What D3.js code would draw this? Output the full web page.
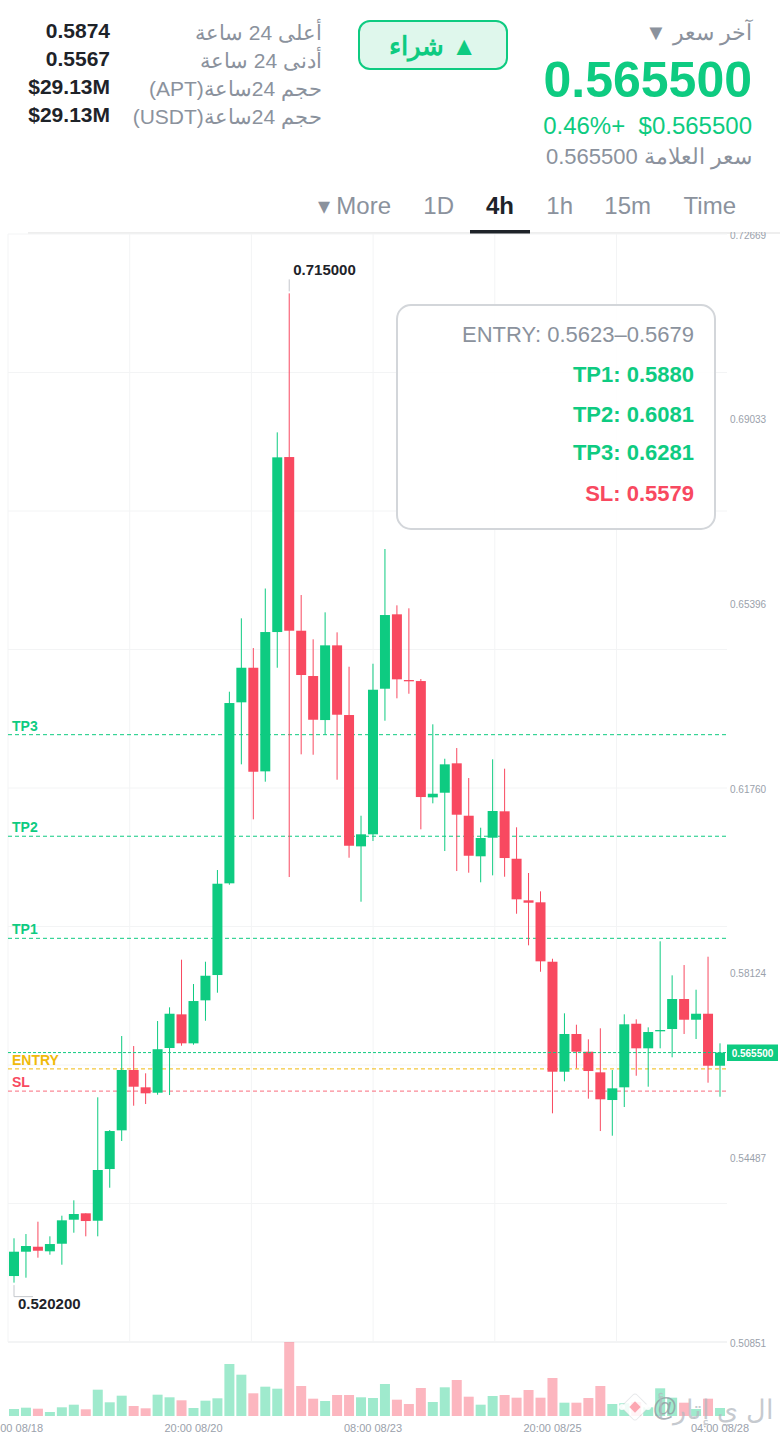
<!DOCTYPE html>
<html>
<head>
  <meta charset="utf-8">
  <script src="https://d3js.org/d3.v7.min.js"></script>
  <style>
  html, body { margin: 0; padding: 0; background: #fff; }
  svg { display: block; }
  text { font-family: "Liberation Sans", Arial, sans-serif; }
  .gray { fill: #8b929d; }
  .dark { fill: #1e2329; font-weight: bold; }
  </style>
</head>
<body>
<script>
var GREEN = '#0ecb81', RED = '#f84960', YELLOW = '#f0b90b';

// candles (4h)
var opens  = [0.52150,0.52629,0.52727,0.52637,0.52786,0.53259,0.53385,0.53239,0.54257,0.55019,
              0.56207,0.55866,0.55760,0.56640,0.57303,0.56732,0.57579,0.58077,0.59883,0.63447,
              0.64128,0.62088,0.64831,0.68277,0.64857,0.63965,0.63098,0.64569,0.63197,0.60611,
              0.60848,0.63715,0.65180,0.63886,0.63866,0.61576,0.61667,0.62246,0.61214,0.60415,
              0.60781,0.61301,0.60367,0.59548,0.59509,0.58339,0.56173,0.56916,0.56567,0.56161,
              0.55616,0.55866,0.57118,0.56634,0.56969,0.57014,0.57605,0.57197,0.57315,0.56291];
var closes = [0.52629,0.52741,0.52648,0.52780,0.53247,0.53371,0.53233,0.54238,0.55005,0.56207,
              0.55878,0.55748,0.56616,0.57315,0.56732,0.57565,0.58063,0.59875,0.63433,0.64128,
              0.62080,0.64831,0.68271,0.64857,0.63985,0.63104,0.64569,0.63203,0.60623,0.60848,
              0.63695,0.65166,0.63900,0.63861,0.61582,0.61647,0.62226,0.61234,0.60426,0.60775,
              0.61307,0.60381,0.59568,0.59501,0.58347,0.56173,0.56916,0.56567,0.56187,0.55630,
              0.55846,0.57107,0.56634,0.56955,0.56994,0.57605,0.57197,0.57315,0.56291,0.56550];
var highs  = [0.52893,0.52977,0.53220,0.52932,0.53338,0.53641,0.53385,0.55669,0.55025,0.56876,
              0.56679,0.56142,0.57171,0.57441,0.58379,0.57900,0.58339,0.60145,0.63656,0.65101,
              0.64516,0.65688,0.68763,0.71500,0.65560,0.64688,0.65219,0.64825,0.64148,0.61214,
              0.64207,0.66466,0.65357,0.65298,0.63906,0.63014,0.62336,0.62547,0.61956,0.60978,
              0.62325,0.62140,0.60986,0.60086,0.59725,0.58398,0.57323,0.57099,0.56811,0.57028,
              0.56207,0.57303,0.57205,0.57047,0.58741,0.58071,0.58274,0.57788,0.58438,0.56732];
var lows   = [0.52020,0.52117,0.52511,0.52570,0.52373,0.53003,0.52932,0.52932,0.53889,0.54809,
              0.55504,0.55537,0.55720,0.55714,0.56685,0.56705,0.57177,0.57729,0.59855,0.62226,
              0.61143,0.61884,0.64128,0.60007,0.62423,0.62415,0.62817,0.61923,0.60387,0.59521,
              0.60716,0.63085,0.63526,0.63616,0.60946,0.61458,0.60519,0.60125,0.60092,0.59903,
              0.60040,0.60013,0.59284,0.58662,0.58142,0.55354,0.55984,0.56240,0.55642,0.55005,
              0.54913,0.55478,0.56094,0.55878,0.56634,0.56457,0.56916,0.56817,0.55957,0.55681];
var volumes = [7,8.3,7.3,4,8.7,11.3,6.7,26.3,13.7,20.3,
               10,7.7,21.3,18.7,15.7,8,15.3,17.7,52,41.3,
               22.7,29.3,27.3,74,30,17.3,15,21,21,18.7,
               18,32,16.3,12,28,14,28.7,36,19.3,11.3,
               20,21,18.3,26,18.3,38,13.3,13.3,18,30,
               12,12.7,14,8.7,27.7,18.3,13.3,7,17.3,8];

var priceTicks = ['0.72669','0.69033','0.65396','0.61760','0.58124','0.54487','0.50851'];
var timeLabels = ['20:00 08/18','20:00 08/20','08:00 08/23','20:00 08/25','04:00 08/28'];
var timeLabelIdx = [0,15,30,45,59];
var levelNames  = ['TP3','TP2','TP1','ENTRY','SL'];
var levelPrices = [0.6281,0.6081,0.5880,0.5623,0.5579];
var levelColors = [GREEN,GREEN,GREEN,YELLOW,RED];
var lastPrice = 0.5655;

var statLabels = ['أعلى 24 ساعة','أدنى 24 ساعة','حجم 24ساعة(APT)','حجم 24ساعة(USDT)'];
var statValues = ['0.5874','0.5567','$29.13M','$29.13M'];
var tabNames = ['Time','15m','1h','4h','1D','▾ More'];
var tabRight = [736,651,573,514,454,391];
var boxLines = ['ENTRY: 0.5623–0.5679','TP1: 0.5880','TP2: 0.6081','TP3: 0.6281','SL: 0.5579'];
var boxColors = ['#8b929d',GREEN,GREEN,GREEN,RED];
var boxBase = [342,382,422,460,501];

var svg = d3.select('body').append('svg')
  .attr('width', 780).attr('height', 1434);

var x = d3.scaleLinear().domain([0,59]).range([14,720]);
var y = d3.scaleLinear().domain([0.50851,0.72669]).range([1342,234]);
var v = d3.scaleLinear().domain([0,74]).range([1416,1342]);
var gridX = d3.scaleLinear().domain([0,1]).range([8,129.7]);

// header
function rtl(tx, ty, size, txt, cls) {
  return svg.append('text').attr('x', tx).attr('y', ty)
    .attr('direction','rtl').style('text-anchor','start')
    .attr('font-size', size).attr('class', cls).text(txt);
}
rtl(752, 40, 22, 'آخر سعر ▼', 'gray');
svg.append('text').attr('x',752).attr('y',97).attr('text-anchor','end')
  .attr('font-size',50).attr('font-weight','bold').attr('fill',GREEN).text('0.565500');
rtl(752, 134, 24, '$0.565500\u00a0\u00a0+0.46%').attr('fill',GREEN);
rtl(752, 164, 22, 'سعر العلامة 0.565500', 'gray');

statLabels.forEach(function(d,i) {
  rtl(322, 40+i*28, 21, d, 'gray');
  svg.append('text').attr('class','dark').attr('x',110).attr('y',38+i*28)
    .attr('text-anchor','end').attr('font-size',21).text(statValues[i]);
});

svg.append('rect').attr('x',359).attr('y',21).attr('width',148).attr('height',48).attr('rx',11)
  .attr('fill','#dff7ec').attr('stroke',GREEN).attr('stroke-width',2);
rtl(477, 55, 26, '▲ شراء').attr('fill',GREEN).attr('font-weight','bold');

// tabs
tabNames.forEach(function(d,i) {
  svg.append('text').attr('x',tabRight[i]).attr('y',214).attr('text-anchor','end')
    .attr('font-size',24).attr('font-weight', d=='4h' ? 'bold' : 'normal')
    .attr('fill', d=='4h' ? '#1e2329' : '#8b929d').text(d);
});
svg.append('rect').attr('x',28).attr('y',232).attr('width',752).attr('height',2).attr('fill','#eeeeee');
svg.append('rect').attr('x',470).attr('y',230).attr('width',60).attr('height',4).attr('fill','#1e2329');

// grid
var gridG = svg.append('g').attr('stroke','#f3f4f5').attr('stroke-width',1);
d3.range(0,9).forEach(function(k) {
  var py = y(0.50851 + k*(0.72669-0.50851)/8);
  gridG.append('line').attr('x1',8).attr('x2',727).attr('y1',py).attr('y2',py)
    .attr('stroke-width', k==0 ? 2 : 1);
});
d3.range(0,6).forEach(function(k) {
  gridG.append('line').attr('x1',gridX(k)).attr('x2',gridX(k)).attr('y1',234).attr('y2',1342);
});

// volume
svg.append('g').selectAll('rect').data(volumes).enter().append('rect')
  .attr('x', function(d,i) { return x(i)-5; })
  .attr('width', 10)
  .attr('y', function(d) { return v(d); })
  .attr('height', function(d) { return v(0)-v(d); })
  .attr('fill', function(d,i) { return closes[i]>=opens[i] ? GREEN : RED; })
  .attr('opacity', 0.4);

// level lines
levelPrices.forEach(function(p,i) {
  svg.append('line').attr('x1',8).attr('x2',727).attr('y1',y(p)).attr('y2',y(p))
    .attr('stroke',levelColors[i])
    .attr('stroke-width', i<3 ? 1 : 1.3)
    .attr('stroke-opacity', i==3 ? 0.8 : (i==4 ? 0.65 : 1))
    .attr('stroke-dasharray','4 3');
});

// candles
var candles = svg.append('g').selectAll('g').data(opens).enter().append('g');
candles.append('line')
  .attr('x1', function(d,i) { return x(i); })
  .attr('x2', function(d,i) { return x(i); })
  .attr('y1', function(d,i) { return y(highs[i]); })
  .attr('y2', function(d,i) { return y(lows[i]); })
  .attr('stroke-width', 1)
  .attr('stroke', function(d,i) { return closes[i]>=opens[i] ? GREEN : RED; });
candles.append('rect')
  .attr('x', function(d,i) { return x(i)-5; })
  .attr('width', 10)
  .attr('y', function(d,i) { return y(Math.max(opens[i],closes[i])); })
  .attr('height', function(d,i) { return Math.max(1, Math.abs(y(opens[i])-y(closes[i]))); })
  .attr('fill', function(d,i) { return closes[i]>=opens[i] ? GREEN : RED; });

// last price line on top
svg.append('line').attr('x1',8).attr('x2',727).attr('y1',y(lastPrice)).attr('y2',y(lastPrice))
  .attr('stroke',GREEN).attr('stroke-width',1).attr('stroke-dasharray','3 2');

// level labels
var labelBase = [731,832,934,1065,1087];
levelNames.forEach(function(d,i) {
  svg.append('text').attr('x',12).attr('y',labelBase[i]).attr('font-size',14).attr('font-weight','bold')
    .attr('fill',levelColors[i]).text(d);
});

// price axis, the top label is cut by the tab bar
svg.append('clipPath').attr('id','axisClip').append('rect')
  .attr('x',0).attr('y',231).attr('width',53).attr('height',1203);
var yAxis = d3.axisRight(y).tickValues(priceTicks.map(Number)).tickSize(0).tickPadding(3)
  .tickFormat(d3.format('.5f'));
var yG = svg.append('g').attr('transform','translate(727,1)').attr('clip-path','url(#axisClip)').call(yAxis);
yG.select('.domain').remove();
yG.selectAll('text').attr('fill','#9aa1ab').attr('font-size',10)
  .style('font-family','"Liberation Sans", Arial, sans-serif');

// time axis labels
timeLabels.forEach(function(d,i) {
  svg.append('text').attr('x',x(timeLabelIdx[i])).attr('y',1431.5).attr('text-anchor','middle')
    .attr('font-size',11).attr('fill','#9aa1ab').text(d);
});

// last price tag
svg.append('rect').attr('x',727).attr('y',1044.5).attr('width',51).attr('height',16.5).attr('fill',GREEN);
svg.append('text').attr('x',752.5).attr('y',1056.5).attr('text-anchor','middle')
  .attr('font-size',10).attr('font-weight','bold').attr('fill','#fff').text('0.565500');

// high / low marks
var hx = x(23), lx = x(0);
svg.append('line').attr('x1',hx).attr('x2',hx).attr('y1',y(0.715)-14).attr('y2',y(0.715)-2)
  .attr('stroke','#c4c7cc').attr('stroke-width',1);
svg.append('text').attr('class','dark').attr('x',hx+4).attr('y',y(0.715)-18).attr('font-size',15).text('0.715000');
svg.append('path').attr('fill','none').attr('stroke','#c4c7cc').attr('stroke-width',1)
  .attr('d', d3.line()([[lx,y(0.5202)+2.5],[lx,y(0.5202)+14],[lx+19,y(0.5202)+14]]));
svg.append('text').attr('class','dark').attr('x',lx+4).attr('y',y(0.5202)+26).attr('font-size',15).text('0.520200');

// annotation box
svg.append('rect').attr('x',397).attr('y',305).attr('width',318).attr('height',224).attr('rx',14)
  .attr('fill','#fff').attr('fill-opacity',0.9).attr('stroke','#d3d6da').attr('stroke-width',2);
boxLines.forEach(function(d,i) {
  svg.append('text').attr('x',694).attr('y',boxBase[i]).attr('text-anchor','end')
    .attr('font-size',22).attr('font-weight', i==0 ? 'normal' : 'bold')
    .attr('fill',boxColors[i]).text(d);
});

// watermark
var wm = svg.append('g');
wm.append('rect').attr('x',-10).attr('y',-10).attr('width',20).attr('height',20).attr('rx',3)
  .attr('transform','translate(635,1407) rotate(45)')
  .attr('fill','#fff').attr('fill-opacity',0.85).attr('stroke','#b8bcc2').attr('stroke-opacity',0.35);
wm.append('rect').attr('x',-4).attr('y',-4).attr('width',8).attr('height',8)
  .attr('transform','translate(635,1407) rotate(45)').attr('fill',RED).attr('fill-opacity',0.45);
[622,648].forEach(function(cx) {
  wm.append('circle').attr('cx',cx).attr('cy',1407).attr('r',3)
    .attr('fill','#fff').attr('fill-opacity',0.9);
});
wm.append('text').attr('x',665).attr('y',1416).attr('text-anchor','middle').attr('font-size',25)
  .attr('fill','#8f969e').attr('fill-opacity',0.75).text('@');
svg.append('text').attr('x',774).attr('y',1419).attr('direction','rtl').style('text-anchor','start')
  .attr('font-size',27).attr('fill','#b4b9bf').attr('fill-opacity',0.75)
  .text('ال ي إتار أ');
</script>
</body>
</html>
